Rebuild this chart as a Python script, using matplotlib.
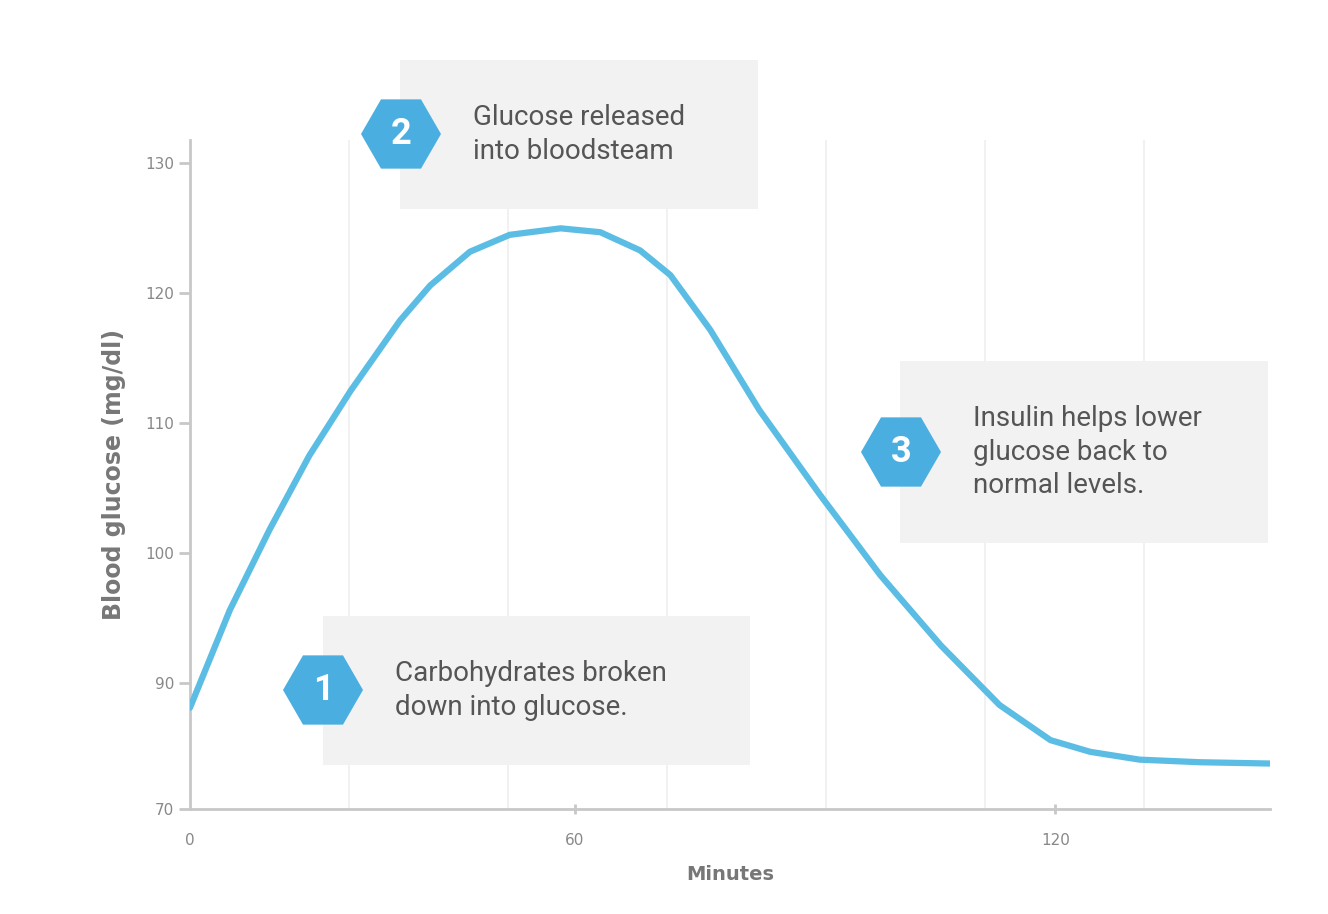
import matplotlib
matplotlib.use("Agg")
import matplotlib.pyplot as plt
import numpy as np
from matplotlib.patches import Rectangle, RegularPolygon

# curve (x in gridline units, y in mg/dl on display scale)
curve_x = [0,0.25,0.50,0.75,1.01,1.32,1.51,1.76,2.01,2.33,2.58,2.83,3.02,3.27,3.58,3.96,4.34,4.72,5.09,5.41,5.66,5.97,6.35,6.79]
curve_y = [88.1,95.6,101.8,107.5,112.5,117.9,120.6,123.2,124.5,125.0,124.7,123.3,121.4,117.2,111.0,104.5,98.3,92.9,88.3,85.6,84.7,84.1,83.9,83.8]
xtick_pos = [0, 2.42, 5.44]
xtick_labels = ["0", "60", "120"]
ytick_pos = [80.3, 90, 100, 110, 120, 130]
ytick_labels = ["70", "90", "100", "110", "120", "130"]
grid_x = [1, 2, 3, 4, 5, 6]

notes = [("1", "Carbohydrates broken\ndown into glucose.", (323, 616, 750, 765), (323, 690)),
         ("2", "Glucose released\ninto bloodsteam", (400, 60, 758, 209), (401, 134)),
         ("3", "Insulin helps lower\nglucose back to\nnormal levels.", (900, 361, 1268, 543), (901, 452))]

W, H = 1328, 914
fig = plt.figure(figsize=(W/100, H/100), dpi=100)
ax = fig.add_axes([190/W, (H-809)/H, 1080/W, 669/H])
ax.set_xlim(0, 6.79)
ax.set_ylim(80.3, 131.8)
for g in grid_x:
    ax.axvline(g, color="#efefef", lw=1.2, zorder=0)
ax.plot(curve_x, curve_y, color="#5bbde4", lw=4.5, solid_capstyle="round", solid_joinstyle="round", zorder=5)
for s in ["top", "right"]:
    ax.spines[s].set_visible(False)
for s in ["left", "bottom"]:
    ax.spines[s].set_color("#c8c8c8")
    ax.spines[s].set_linewidth(2)
ax.set_xticks(xtick_pos, xtick_labels)
ax.set_yticks(ytick_pos, ytick_labels)
ax.tick_params(axis="y", colors="#c8c8c8", labelcolor="#888888", labelsize=11, length=8, width=2)
ax.tick_params(axis="x", colors="#c8c8c8", labelcolor="#888888", labelsize=11, length=7, width=2, direction="inout", pad=14)
ax.xaxis.get_major_ticks()[0].tick1line.set_visible(False)
ax.set_xlabel("Minutes", fontsize=14, color="#777777", fontweight="bold", labelpad=12)
ax.set_ylabel("Blood glucose (mg/dl)", fontsize=17, color="#777777", fontweight="bold", labelpad=14)

for num, txt, (x0, y0, x1, y1), (cx, cy) in notes:
    fig.add_artist(Rectangle((x0/W, 1-y1/H), (x1-x0)/W, (y1-y0)/H, transform=fig.transFigure,
                             facecolor="#f2f2f2", edgecolor="none", zorder=1))
    hexa = RegularPolygon((cx, H-cy), 6, radius=40, orientation=np.pi/6*0 + np.pi/2,
                          transform=None, facecolor="#4aafe0", edgecolor="none", zorder=2)
    fig.add_artist(hexa)
    fig.text(cx/W, 1-cy/H, num, color="white", fontsize=26, fontweight="bold",
             ha="center", va="center", family="Roboto", zorder=3)
    fig.text((cx+72)/W, 1-(y0+y1)/2/H, txt, color="#555555", fontsize=20, family="Roboto",
             ha="left", va="center", linespacing=1.3, zorder=3)

fig.savefig("out.png", dpi=100)
